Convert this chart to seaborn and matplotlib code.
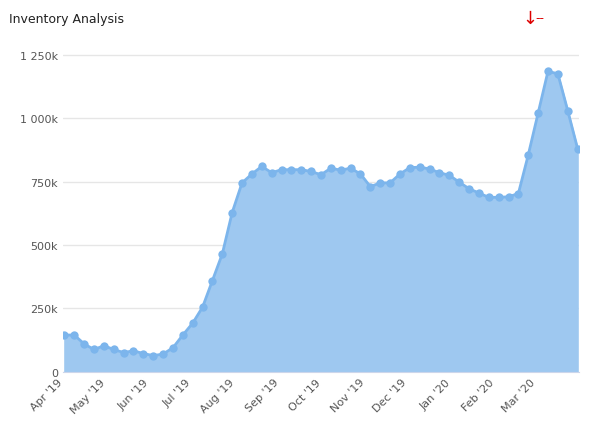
import pandas as pd
import matplotlib
matplotlib.use("Agg")
import matplotlib.pyplot as plt
import matplotlib.dates as mdates
import matplotlib.ticker as mticker
import seaborn as sns

# weekly inventory values (thousands)
week_start = "2019-04-01"
inventory_k = [145, 145, 110, 88, 103, 88, 76, 83, 72, 64, 70, 95, 145, 192, 255,
               360, 465, 628, 745, 780, 810, 785, 797, 797, 797, 790, 777, 803,
               795, 803, 780, 730, 745, 745, 780, 805, 807, 800, 785, 775, 748,
               722, 705, 688, 688, 690, 703, 855, 1020, 1185, 1175, 1030, 880]

df = pd.DataFrame({
    "week": pd.date_range(week_start, periods=len(inventory_k), freq="7D"),
    "value": [v * 1000 for v in inventory_k],
})

sns.set_style("white")
fig, ax = plt.subplots(figsize=(6.0, 4.31), dpi=100)
fig.subplots_adjust(left=0.105, right=0.965, top=0.90, bottom=0.135)

line_col = "#7cb5ec"
ax.fill_between(df["week"], df["value"], color="#9ec8f0", alpha=1, zorder=1)
sns.lineplot(data=df, x="week", y="value", ax=ax, color=line_col, linewidth=2,
             marker="o", markersize=6, markeredgewidth=0, zorder=3)

ax.set_ylim(0, 1300000)
ax.set_yticks([0, 250000, 500000, 750000, 1000000, 1250000])
ax.yaxis.set_major_formatter(mticker.FuncFormatter(
    lambda v, p: "0" if v == 0 else f"{int(v/1000):,}k".replace(",", " ")))
ax.set_xlim(df["week"].iloc[0] - pd.Timedelta(days=1), df["week"].iloc[-1] + pd.Timedelta(days=1))
ax.xaxis.set_major_locator(mdates.MonthLocator())
ax.xaxis.set_major_formatter(mdates.DateFormatter("%b '%y"))
plt.setp(ax.get_xticklabels(), rotation=45, ha="right")
ax.tick_params(axis="both", labelsize=8, colors="#555555", length=0)
ax.grid(axis="y", color="#e6e6e6", linewidth=1)
ax.set_xlabel("")
ax.set_ylabel("")
for s in ["top", "right", "left"]:
    ax.spines[s].set_visible(False)
ax.spines["bottom"].set_color("#ccd6eb")

fig.text(0.015, 0.955, "Inventory Analysis", fontsize=9, color="#222222", va="center")
fig.text(0.87, 0.955, "↓", fontsize=13, color="#dd0000", va="center")
fig.text(0.893, 0.958, "--", fontsize=9, color="#dd0000", va="center")

fig.savefig("out.png", dpi=100)
